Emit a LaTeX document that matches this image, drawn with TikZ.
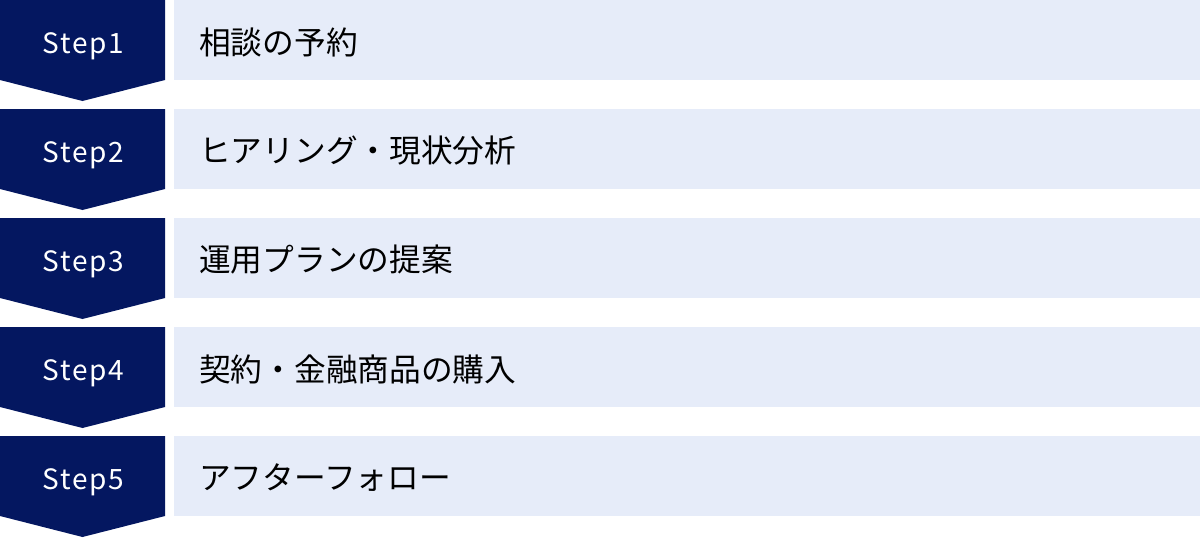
\documentclass[tikz,border=0pt]{standalone}
\usepackage{fontspec}
\setmainfont{Noto Sans CJK JP}
\newfontfamily\stepfont{Noto Sans CJK JP}[LetterSpace=6]
\definecolor{navy}{HTML}{041760}
\definecolor{pale}{HTML}{E6ECF9}
\begin{document}
\begin{tikzpicture}[x=1pt,y=-1pt,
  stepshape/.style={fill=navy,draw=none},
  barshape/.style={fill=pale,draw=none},
  steplabel/.style={text=white,font=\stepfont\fontsize{28}{28}\selectfont,inner sep=0pt,anchor=base},
  barlabel/.style={text=black,font=\fontsize{31.7}{31.7}\selectfont,anchor=west,inner sep=0pt}]
\useasboundingbox (0,0) rectangle (1200,538);
\foreach \i/\t in {1/相談の予約,2/ヒアリング・現状分析,3/運用プランの提案,4/契約・金融商品の購入,5/アフターフォロー}{
  \pgfmathsetmacro{\y}{(\i-1)*109}
  \fill[stepshape] (0,\y) -- (165,\y) -- (165,\y+80) -- (82.5,\y+101) -- (0,\y+80) -- cycle;
  \fill[barshape] (174,\y) rectangle (1200,\y+80);
  \node[steplabel] (s\i) at (83.5,\y+53) {Step\i};
  \node[barlabel] (b\i) at (199,\y+42) {\t};
}
\end{tikzpicture}
\end{document}
